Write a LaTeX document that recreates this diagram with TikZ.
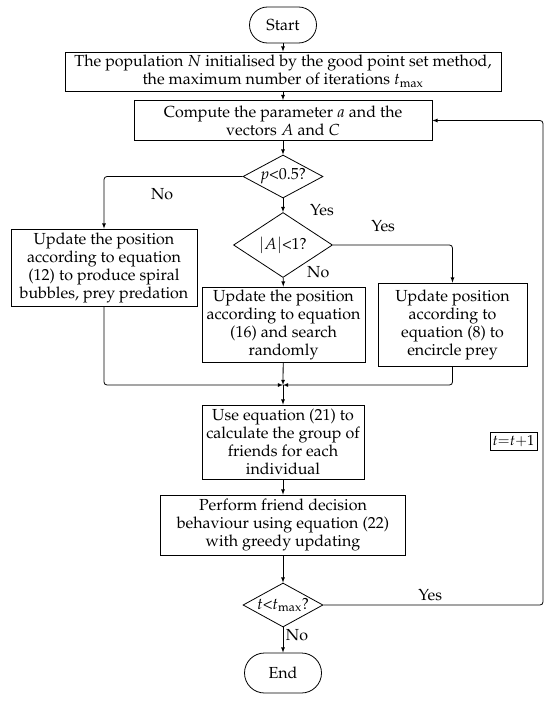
\documentclass[tikz,border=0pt]{standalone}
\usepackage[T1]{fontenc}
\usepackage{mathpazo}
\usepackage{amsmath}
\usetikzlibrary{positioning,shapes.geometric}

\begin{document}
\begin{tikzpicture}[x=1pt, y=-1pt, >=latex,
    every node/.style={font=\fontsize{16}{18}\selectfont},
    proc/.style={draw, rectangle, align=center, inner sep=1pt, line width=0.8pt},
    term/.style={draw, rectangle, align=center, line width=0.8pt},
    decide/.style={draw, diamond, aspect=1.8, inner sep=0pt, line width=0.8pt},
    flow/.style={->, line width=0.8pt, rounded corners=3pt},
    lbl/.style={inner sep=0pt}]
    \useasboundingbox (0,0) rectangle (550,704);
    % Nodes
    \node[term, minimum width=67pt, minimum height=36pt, rounded corners=18pt] (start) at (283,25) {Start};
    \node[proc, minimum width=436pt, minimum height=39pt] (init) at (283,71.5) {The population $N$ initialised by the good point set method,\\ the maximum number of iterations $t_{\mathrm{max}}$};
    \node[proc, minimum width=298pt, minimum height=40pt] (param) at (283,120.5) {Compute the parameter $a$ and the\\ vectors $A$ and $C$};
    \node[decide, minimum width=80pt, minimum height=43pt] (pdec) at (283,176.5) {$p$\textless0.5?};
    \node[decide, minimum width=99pt, minimum height=65pt] (adec) at (283,245) {$|A|$\textless1?};
    \node[proc, minimum width=186pt, minimum height=77pt] (spiral) at (104,267.5) {Update the position\\ according to equation\\ (12) to produce spiral\\ bubbles, prey predation};
    \node[proc, minimum width=163pt, minimum height=75pt] (search) at (283.5,324.5) {Update the position\\ according to equation\\ (16) and search\\ randomly};
    \node[proc, minimum width=149pt, minimum height=83pt] (encircle) at (452.5,324.5) {Update position\\ according to\\ equation (8) to\\ encircle prey};
    \coordinate (merge) at (283,385);
    \node[proc, minimum width=162pt, minimum height=74pt] (friends) at (283,442) {Use equation (21) to\\ calculate the group of\\ friends for each\\ individual};
    \node[proc, minimum width=245pt, minimum height=60pt] (greedy) at (283,525) {Perform friend decision\\ behaviour using equation (22)\\ with greedy updating};
    \node[decide, minimum width=80pt, minimum height=44pt] (tdec) at (283,605) {$t$\textless$t_{\mathrm{max}}$?};
    \node[term, minimum width=77pt, minimum height=40pt, rounded corners=20pt] (stop) at (283,673) {End};
    \node[proc, inner sep=1pt, font=\fontsize{14.5}{17}\selectfont, minimum width=47pt, minimum height=18pt] (incr) at (513.5,441) {$t{=}t{+}1$};
    \coordinate (loop) at (543,605);
    % Arrows
    \draw[flow] (start) -- (init);
    \draw[flow] (init) -- (param);
    \draw[flow] (param) -- (pdec);
    \draw[flow] (pdec.west) -| node[lbl, pos=0.29, yshift=-18pt] {No} (spiral.north);
    \draw[flow] (pdec) -- node[lbl, xshift=39pt, yshift=-5pt] {Yes} (adec);
    \draw[flow] (adec.east) -| node[lbl, pos=0.21, yshift=19pt] {Yes} (encircle.north);
    \draw[flow] (adec) -- node[lbl, xshift=35pt, yshift=10pt] {No} (search);
    % Merge
    \draw[flow] (spiral.south) |- (merge);
    \draw[flow] (encircle.south) |- (merge);
    \draw[flow] (search) -- (merge);
    \draw[flow] (merge) -- (friends);
    \draw[flow] (friends) -- (greedy);
    \draw[flow] (greedy) -- (tdec);
    \draw[flow] (tdec) -- node[lbl, xshift=14pt, yshift=5pt] {No} (stop);
    % Loop back
    \draw[flow] (tdec.east) -- node[lbl, xshift=-3pt, yshift=10pt] {Yes} (loop) |- (param.east);
\end{tikzpicture}
\end{document}
